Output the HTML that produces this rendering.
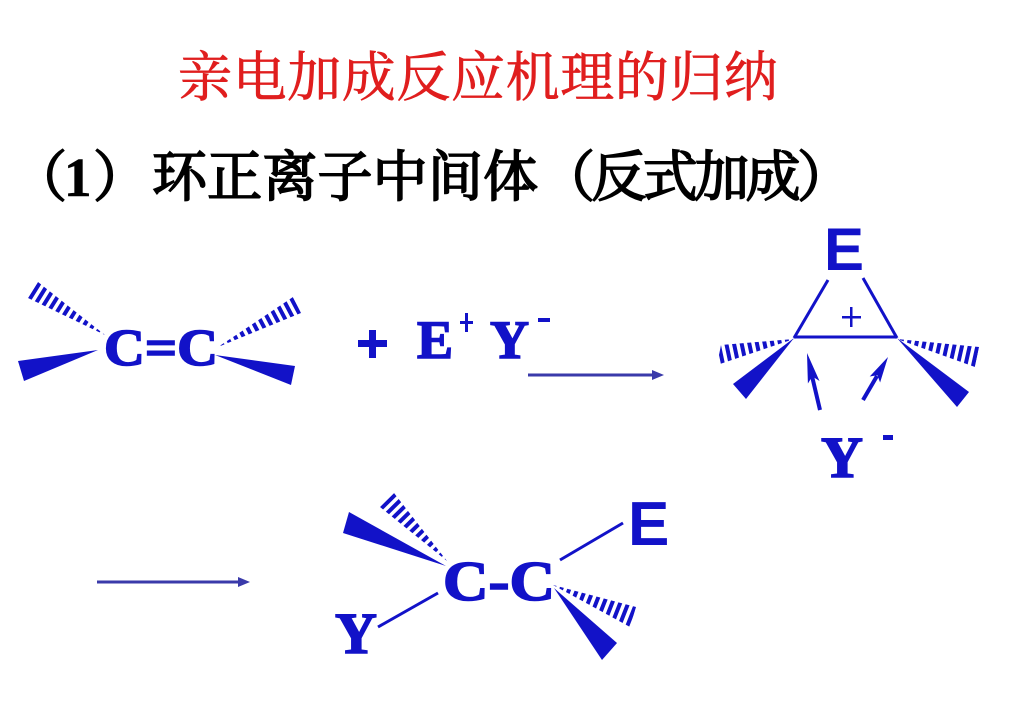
<!DOCTYPE html>
<html><head><meta charset="utf-8"><style>
html,body{margin:0;padding:0;background:#fff;}
svg{display:block;}
</style></head><body>
<svg width="1014" height="717" viewBox="0 0 1014 717" xmlns="http://www.w3.org/2000/svg">
<defs>
<clipPath id="h1"><polygon points="105,335 38,282 28,298"/></clipPath>
<clipPath id="h2"><polygon points="218,347 293,297 301,313"/></clipPath>
<clipPath id="h3"><polygon points="794,339 721,345 717,365"/></clipPath>
<clipPath id="h4"><polygon points="897,339 979,347 975,367"/></clipPath>
<clipPath id="h5"><polygon points="447,561 394,493 380,507"/></clipPath>
<clipPath id="h6"><polygon points="553,585 636,607 630,627"/></clipPath>
</defs>
<rect width="1014" height="717" fill="#fff"/>

<!-- Title -->
<text x="178" y="96" font-family="'Noto Serif CJK SC','Noto Sans CJK SC',serif" font-size="54" fill="#e01e1e" stroke="#e01e1e" stroke-width="0.7" textLength="600" lengthAdjust="spacing">亲电加成反应机理的归纳</text>

<!-- Subtitle -->
<g font-family="'Liberation Serif','Noto Serif CJK SC',serif" font-size="55" fill="#000">
<text x="12" y="196" stroke="#000" stroke-width="1.8">（</text>
<text x="64" y="196" font-weight="bold" stroke="#000" stroke-width="0.6">1</text>
<text x="93" y="196" stroke="#000" stroke-width="1.8">）</text>
<text x="152" y="196" stroke="#000" stroke-width="1.8" textLength="386" lengthAdjust="spacing">环正离子中间体</text>
<text x="540" y="196" stroke="#000" stroke-width="1.8" textLength="312" lengthAdjust="spacing">（反式加成）</text>
</g>

<g fill="#1212c8" stroke="none">
<!-- Left alkene -->
<polygon points="98,350 18,361 24,381"/>
<polygon points="215,355 295,366 291,385"/>
<line x1="33" y1="290" x2="107" y2="336" stroke="#1212c8" stroke-width="24" stroke-dasharray="4 3.5" clip-path="url(#h1)"/>
<line x1="297" y1="305" x2="216" y2="348" stroke="#1212c8" stroke-width="24" stroke-dasharray="4 3.5" clip-path="url(#h2)"/>
<text x="104" y="365" font-family="'Liberation Serif',serif" font-weight="bold" font-size="52" stroke="#1212c8" stroke-width="1.6" textLength="114" lengthAdjust="spacingAndGlyphs">C=C</text>

<!-- + E+Y- -->
<rect x="358" y="340" width="29" height="7"/>
<rect x="369" y="330" width="7" height="28"/>
<text x="417" y="358" font-family="'Liberation Serif',serif" font-weight="bold" font-size="54" stroke="#1212c8" stroke-width="1.6">E</text>
<rect x="460" y="321" width="13" height="3"/>
<rect x="465" y="313" width="3" height="19"/>
<text x="490" y="358" font-family="'Liberation Serif',serif" font-weight="bold" font-size="54" stroke="#1212c8" stroke-width="1.6">Y</text>
<rect x="538" y="318" width="12" height="4"/>

<!-- Bridged intermediate -->
<text x="824" y="270" font-family="'Liberation Sans',sans-serif" font-weight="bold" font-size="60">E</text>
<line x1="828" y1="280" x2="794" y2="338" stroke="#1212c8" stroke-width="3"/>
<line x1="863" y1="278" x2="897" y2="338" stroke="#1212c8" stroke-width="3"/>
<line x1="794" y1="337" x2="897" y2="337" stroke="#1212c8" stroke-width="3"/>
<rect x="842" y="316" width="19" height="2.5"/>
<rect x="850" y="307" width="2.5" height="20"/>
<polygon points="794,338 733,384 746,399"/>
<polygon points="897,338 969,392 957,407"/>
<line x1="719" y1="355" x2="795" y2="339" stroke="#1212c8" stroke-width="26" stroke-dasharray="4 3.5" clip-path="url(#h3)"/>
<line x1="977" y1="357" x2="896" y2="339" stroke="#1212c8" stroke-width="26" stroke-dasharray="4 3.5" clip-path="url(#h4)"/>
<line x1="820" y1="410" x2="812" y2="376" stroke="#1212c8" stroke-width="4"/>
<polygon points="807,353 819.5,381 812.3,376.4 807.9,383.5"/>
<line x1="863" y1="400" x2="877" y2="376" stroke="#1212c8" stroke-width="4"/>
<polygon points="888,357 880.1,382.5 877.4,375.2 869.7,376.5"/>
<text x="821" y="477" font-family="'Liberation Serif',serif" font-weight="bold" font-size="58" stroke="#1212c8" stroke-width="1.6">Y</text>
<rect x="883" y="435" width="10" height="5"/>

<!-- Product -->
<polygon points="446,566 349,512 343,533"/>
<polygon points="554,588 617,643 602,660"/>
<line x1="387" y1="500" x2="448" y2="562" stroke="#1212c8" stroke-width="26" stroke-dasharray="4 3.5" clip-path="url(#h5)"/>
<line x1="633" y1="617" x2="552" y2="585" stroke="#1212c8" stroke-width="26" stroke-dasharray="4 3.5" clip-path="url(#h6)"/>
<line x1="438" y1="593" x2="378" y2="627" stroke="#1212c8" stroke-width="3"/>
<line x1="560" y1="560" x2="623" y2="523" stroke="#1212c8" stroke-width="3"/>
<text x="443" y="600" font-family="'Liberation Serif',serif" font-weight="bold" font-size="56" stroke="#1212c8" stroke-width="1.6" textLength="112" lengthAdjust="spacingAndGlyphs">C-C</text>
<text x="335" y="653" font-family="'Liberation Serif',serif" font-weight="bold" font-size="58" stroke="#1212c8" stroke-width="1.6">Y</text>
<text x="628" y="545" font-family="'Liberation Sans',sans-serif" font-weight="bold" font-size="62">E</text>
</g>

<!-- Reaction arrows -->
<g stroke="#3a3aaa" stroke-width="3" fill="#3a3aaa">
<line x1="528" y1="375" x2="655" y2="375"/>
<polygon points="652,370 664,375 652,380" stroke="none"/>
<line x1="97" y1="582" x2="241" y2="582"/>
<polygon points="238,577 250,582 238,587" stroke="none"/>
</g>
</svg>
</body></html>
